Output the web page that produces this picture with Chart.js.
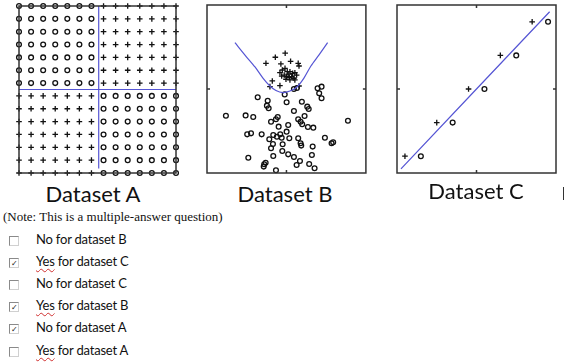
<!DOCTYPE html>
<html>
<head>
<meta charset="utf-8">
<script src="https://cdn.jsdelivr.net/npm/chart.js@4"></script>
<style>
  body { margin: 0; width: 566px; height: 362px; background: #fff; position: relative; overflow: hidden; }
  canvas { position: absolute; top: 0; }
  .ttl { position: absolute; top: 180px; font-family: Lato, sans-serif; font-size: 22px; color: #111; white-space: nowrap; transform: translateX(-50%); }
  .note { position: absolute; left: 3px; top: 209px; font-family: "Liberation Serif", serif; font-size: 13px; color: #111; white-space: nowrap; }
  .opt { position: absolute; left: 0; font-family: Lato, sans-serif; font-size: 13px; letter-spacing: -0.2px; color: #111; white-space: nowrap; }
  .opt .box { position: absolute; left: 9px; top: 5px; width: 8px; height: 8px; border: 1px solid #8a8a8a; border-bottom-color: #d0d0d0; border-right-color: #d0d0d0; background: #fff; font-size: 8px; line-height: 8px; text-align: center; color: #222; }
  .opt .lbl { position: absolute; left: 36px; top: 0; }
  .opt .sp { text-decoration: underline wavy #d03030; text-decoration-thickness: 1px; text-underline-offset: 2px; }
  .cursor { position: absolute; left: 563px; top: 187px; width: 1px; height: 13px; background: #333; }
</style>
</head>
<body>
<canvas id="chartA" width="190" height="180" style="left:0px"></canvas>
<canvas id="chartB" width="170" height="180" style="left:200px"></canvas>
<canvas id="chartC" width="176" height="180" style="left:390px"></canvas>
<div class="ttl" style="left:93px">Dataset A</div>
<div class="ttl" style="left:285px">Dataset B</div>
<div class="ttl" style="left:476px; top:177px">Dataset C</div>
<div class="cursor"></div>
<div class="note">(Note: This is a multiple-answer question)</div>
<div id="opts"></div>
<script>
// Dataset A: 14 x 14 grid of classes, top row first ('o' circle, '+' cross)
const aCols = [0, 1, 2, 3, 4, 5, 6, 7, 8, 9, 10, 11, 12, 13];
const aRows = [13, 12, 11, 10, 9, 8, 7, 6, 5, 4, 3, 2, 1, 0];
const aGrid = [
  'ooooooo+++++++',
  'ooooooo+++++++',
  'ooooooo+++++++',
  'ooooooo+++++++',
  'ooooooo+++++++',
  'ooooooo+++++++',
  'ooooooo+++++++',
  '+++++++ooooooo',
  '+++++++ooooooo',
  '+++++++ooooooo',
  '+++++++ooooooo',
  '+++++++ooooooo',
  '+++++++ooooooo',
  '+++++++ooooooo'
];
// decision lines of A
const aVLineX = [6.6, 6.6];
const aVLineY = [0.35, 13];
const aHLineX = [0, 13];
const aHLineY = [6.5, 6.5];

// Dataset B
const bPlusX = [-0.08, -0.70, -1.29, -0.35, 0.26, 0.74, 0.79, -0.41, -0.26, -0.09, 0.05, 0.22, 0.39, 0.53, -0.30,
  -0.14, 0.01, 0.18, 0.33, 0.47, 0.64, 0.11, -0.03, 0.22, -0.89, -0.41, -1.04, 0.79, 0.53];
const bPlusY = [2.13, 1.89, 1.53, 1.49, 1.65, 1.53, 1.37, 0.97, 1.13, 1.23, 1.03, 1.03, 0.93, 0.97, 0.77,
  0.83, 0.73, 0.70, 0.73, 0.64, 0.83, 0.89, 0.58, 0.54, 0.48, 0.20, 0.14, 0.18, 0.54];
const bCircX = [-1.81, -1.18, -1.23, -1.12, -3.81, -2.57, -2.09, -0.55, -0.66, -0.97, -0.49, -2.47, -2.23, -1.56, -0.83,
  -0.60, -0.39, -0.30, -1.08, -0.85, -0.97, -0.24, -0.26, -2.40, -0.83, -1.31, -1.40, -1.43, -0.66, -0.11,
  0.47, 0.01, 1.96, 2.21, 2.06, 2.21, 0.97, 1.31, 1.40, 0.47, 1.14, 0.74, 0.89, 0.99, 1.35,
  1.69, 0.11, 0.01, 3.87, 0.18, 0.74, 0.89, 0.93, 2.42, 1.65, 2.84, 2.94, 0.11, 0.47, 0.85,
  0.64, 1.60, 1.43, 1.77, 0.66];
const bCircY = [-0.49, -0.70, -0.99, -1.15, -1.59, -1.57, -1.67, -1.67, -1.80, -1.95, -2.24, -2.70, -2.64, -2.70, -2.74,
  -2.84, -2.70, -2.90, -2.99, -3.27, -3.53, -3.29, -3.69, -4.09, -3.99, -4.39, -4.48, -4.62, -4.84, -0.32,
  0.00, -0.79, 0.04, 0.14, -0.26, -0.55, -0.76, -1.05, -1.19, -1.31, -1.61, -1.80, -1.95, -2.10, -2.26,
  -2.30, -2.14, -2.54, -1.89, -2.93, -2.93, -3.23, -3.37, -2.90, -3.43, -3.23, -3.17, -3.89, -4.05, -4.29,
  -4.52, -3.93, -4.46, -4.72, 0.06];
const bCurveX = [-3.24, -2.61, -1.98, -1.48, -1.04, -0.66, -0.22, 0.22, 0.66, 1.10, 1.54, 2.04, 2.59];
const bCurveY = [2.76, 2.02, 1.31, 0.65, 0.18, -0.09, -0.21, -0.12, 0.12, 0.65, 1.37, 2.02, 2.76];

// Dataset C
const cPlusX = [-4.5, -2.5, -0.5, 1.5, 3.5];
const cPlusY = [-4, -2, 0, 2, 4];
const cCircX = [-3.5, -1.5, 0.5, 2.5, 4.5];
const cCircY = [-4, -2, 0, 2, 4];
const cLineX = [-4.75, 4.6];
const cLineY = [-4.75, 4.6];

// mid ticks on the frame (B and C)
const midTicks = [0];

const blue = '#5555d4';
const pts = (xs, ys) => xs.map((x, i) => ({ x: x, y: ys[i] }));

function circles(data) {
  return { data: data, pointStyle: 'circle', pointRadius: 2.4, pointHoverRadius: 2.4, pointBorderWidth: 1.3,
    borderColor: '#111', backgroundColor: 'rgba(0,0,0,0)', showLine: false, clip: false };
}
function crosses(data) {
  return { data: data, pointStyle: 'cross', pointRadius: 2.8, pointHoverRadius: 2.8, pointBorderWidth: 1.3,
    borderColor: '#111', backgroundColor: '#111', showLine: false, clip: false };
}
function line(data) {
  return { data: data, showLine: true, pointRadius: 0, borderColor: blue, borderWidth: 1.2, tension: 0.3, clip: false };
}

// frame + inward ticks
const framePlugin = {
  id: 'frame',
  afterDatasetsDraw(chart, args, opts) {
    const a = chart.chartArea, c = chart.ctx;
    c.save();
    c.strokeStyle = opts.color;
    c.lineWidth = opts.width;
    c.strokeRect(a.left, a.top, a.right - a.left, a.bottom - a.top);
    (opts.ticks || []).forEach(v => {
      const px = chart.scales.x.getPixelForValue(v);
      const py = chart.scales.y.getPixelForValue(v);
      c.beginPath();
      c.moveTo(px, a.top); c.lineTo(px, a.top + 3);
      c.moveTo(px, a.bottom); c.lineTo(px, a.bottom - 3);
      c.moveTo(a.left, py); c.lineTo(a.left + 3, py);
      c.moveTo(a.right, py); c.lineTo(a.right - 3, py);
      c.stroke();
    });
    c.restore();
  }
};

function makeChart(id, datasets, xr, yr, pad, ticks) {
  return new Chart(document.getElementById(id), {
    type: 'scatter',
    data: { datasets: datasets },
    options: {
      responsive: false,
      animation: false,
      events: [],
      layout: { padding: pad },
      plugins: { legend: { display: false }, tooltip: { enabled: false }, frame: { color: '#333', width: 1.5, ticks: ticks } },
      scales: {
        x: { type: 'linear', display: false, min: xr[0], max: xr[1] },
        y: { type: 'linear', display: false, min: yr[0], max: yr[1] }
      }
    },
    plugins: [framePlugin]
  });
}

// Chart A
const aCirc = [], aPlus = [];
aGrid.forEach((row, r) => {
  row.split('').forEach((ch, c) => {
    (ch === 'o' ? aCirc : aPlus).push({ x: aCols[c], y: aRows[r] });
  });
});
makeChart('chartA', [
  line(pts(aVLineX, aVLineY)),
  line(pts(aHLineX, aHLineY)),
  circles(aCirc),
  crosses(aPlus)
], [0, 13], [0, 13], { left: 19, top: 6, right: 14, bottom: 7 }, []);

// Chart B
makeChart('chartB', [
  line(pts(bCurveX, bCurveY)),
  circles(pts(bCircX, bCircY)),
  crosses(pts(bPlusX, bPlusY))
], [-5, 5], [-5, 5], { left: 7, top: 5, right: 4, bottom: 7 }, midTicks);

// Chart C
makeChart('chartC', [
  line(pts(cLineX, cLineY)),
  circles(pts(cCircX, cCircY)),
  crosses(pts(cPlusX, cPlusY))
], [-5, 5], [-5, 5], { left: 7, top: 5, right: 10, bottom: 7 }, midTicks);

// answer options
const optLabels = ['No for dataset B', 'Yes for dataset C', 'No for dataset C', 'Yes for dataset B', 'No for dataset A', 'Yes for dataset A'];
const optChecked = [false, true, false, true, true, false];
const optTop = [231, 253, 275, 297, 319, 342];
const holder = document.getElementById('opts');
optLabels.forEach((t, i) => {
  const d = document.createElement('div');
  d.className = 'opt';
  d.style.top = optTop[i] + 'px';
  const box = '<span class="box">' + (optChecked[i] ? '&#10003;' : '') + '</span>';
  const txt = t.startsWith('Yes') ? '<span class="sp">Yes</span>' + t.slice(3) : t;
  d.innerHTML = box + '<span class="lbl">' + txt + '</span>';
  holder.appendChild(d);
});
</script>
</body>
</html>
